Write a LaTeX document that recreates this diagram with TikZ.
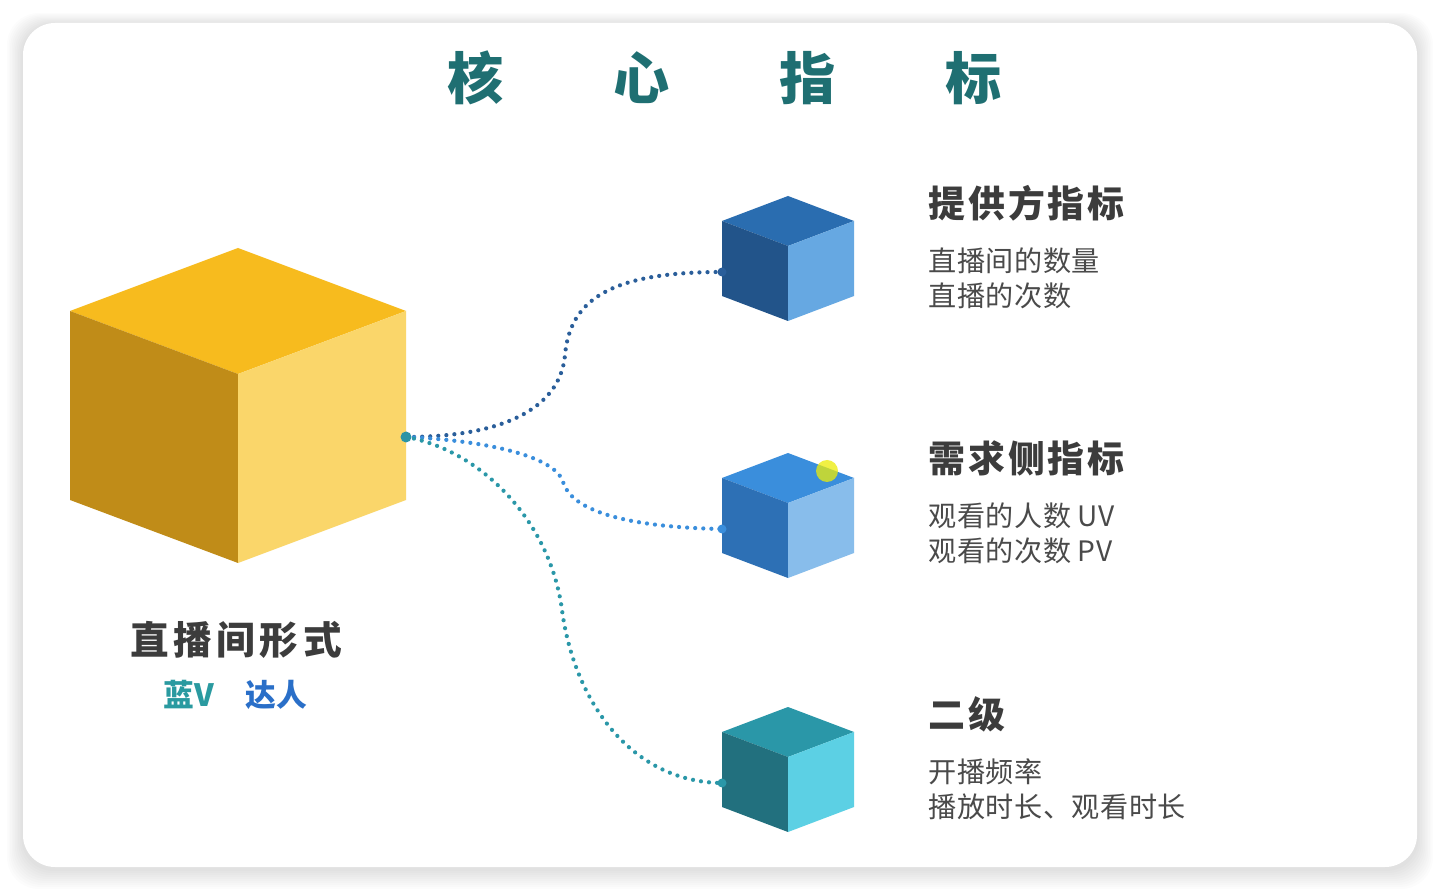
\documentclass[tikz,border=0pt]{standalone}
\usepackage{fontspec}
\setmainfont{Noto Sans CJK SC}
\usetikzlibrary{positioning}
\definecolor{titleteal}{HTML}{1F6F72}
\definecolor{headgray}{HTML}{3C3C3C}
\definecolor{bodygray}{HTML}{4A4A4A}
\definecolor{yellowtop}{HTML}{F7BB1E}
\definecolor{yellowleft}{HTML}{C08C18}
\definecolor{yellowright}{HTML}{FAD66A}
\definecolor{portteal}{HTML}{2A94A6}
\definecolor{linkdark}{HTML}{2A5E9A}
\definecolor{linkblue}{HTML}{3A8EDC}
\definecolor{linkteal}{HTML}{2A97A8}
\definecolor{bluevteal}{HTML}{2A9AA0}
\definecolor{darenblue}{HTML}{2A6FC8}
\pgfmathsetmacro{\cubehalf}{66}
\pgfmathsetmacro{\cubeslope}{25}
\pgfmathsetmacro{\cubeside}{75}

\begin{document}
\begin{tikzpicture}[x=0.02cm, y=-0.02cm,
    dot_line/.style={line width=2.4pt, line cap=round, dash pattern=on 0pt off 4.6pt},
    title_char/.style={text=titleteal, font=\fontsize{32}{36}\selectfont\bfseries},
    sec_head/.style={anchor=west, inner sep=0pt, text=headgray,
        font=\fontsize{21}{24}\selectfont\bfseries\addfontfeatures{LetterSpace=8}},
    sec_body/.style={anchor=west, inner sep=0pt, text=bodygray, align=left,
        font=\fontsize{16}{20}\selectfont\addfontfeatures{LetterSpace=2}}]
    \useasboundingbox (0,0) rectangle (1440,891);
    % card with soft shadow
    \fill[white] (0,0) rectangle (1440,891);
    \foreach \i in {1,...,10} {
        \fill[black, opacity=0.01, rounded corners=0.64cm]
            (23-1.6*\i, 25-1.2*\i) rectangle (1417+1.6*\i, 869+2*\i);
    }
    \fill[white, rounded corners=0.64cm] (23,23) rectangle (1417,867);
    % title
    \foreach \ch [count=\k] in {核, 心, 指, 标} {
        \node[title_char] (title_\k) at (476+166*\k-166, 78) {\ch};
    }
    % big yellow cube
    \coordinate (yc_top) at (238,248);
    \fill[yellowtop] (yc_top) -- ++(-168,63) -- ++(168,63) -- ++(168,-63) -- cycle;
    \fill[yellowleft] (70,311) -- (238,374) -- (238,563) -- (70,500) -- cycle;
    \fill[yellowright] (406,311) -- (238,374) -- (238,563) -- (406,500) -- cycle;
    \coordinate (yellow_port) at (406,437);
    % three small cubes
    \foreach \name/\ytop/\ctop/\cleft/\cright in {
        provider/196/2A6DB0/22548A/66A8E2,
        demand/453/3A8EDC/2D70B5/88BDEB,
        second/707/2A97A8/22707E/5CD0E4} {
        \definecolor{ctop}{HTML}{\ctop}
        \definecolor{cleft}{HTML}{\cleft}
        \definecolor{cright}{HTML}{\cright}
        \fill[ctop] (788,\ytop) -- ++(-\cubehalf,\cubeslope) -- ++(\cubehalf,\cubeslope)
            -- ++(\cubehalf,-\cubeslope) -- cycle;
        \fill[cleft] (788-\cubehalf,\ytop+\cubeslope) -- ++(\cubehalf,\cubeslope)
            -- ++(0,\cubeside) -- ++(-\cubehalf,-\cubeslope) -- cycle;
        \fill[cright] (788+\cubehalf,\ytop+\cubeslope) -- ++(-\cubehalf,\cubeslope)
            -- ++(0,\cubeside) -- ++(\cubehalf,-\cubeslope) -- cycle;
        \coordinate (\name_port) at (722,\ytop+76);
    }
    % cursor highlight
    \fill[yellow!70!lime, opacity=0.75] (827,471) circle[radius=11];
    % dotted links
    \coordinate (bend_a) at (565,355);
    \coordinate (bend_b) at (563,482);
    \coordinate (bend_c) at (562,610);
    \draw[dot_line, linkdark] (yellow_port) .. controls (500,437) and (560,410) .. (bend_a)
        .. controls (570,300) and (610,272) .. (provider_port);
    \draw[dot_line, linkblue] (yellow_port) .. controls (480,440) and (555,455) .. (bend_b)
        .. controls (571,509) and (620,527) .. (demand_port);
    \draw[dot_line, linkteal] (yellow_port) .. controls (480,450) and (550,520) .. (bend_c)
        .. controls (574,700) and (630,782) .. (second_port);
    \fill[portteal] (yellow_port) circle[radius=5.5];
    \fill[linkdark] (provider_port) circle[radius=4.5];
    \fill[linkblue] (demand_port) circle[radius=4.5];
    \fill[linkteal] (second_port) circle[radius=4.5];
    % left labels
    \node[text=headgray, font=\fontsize{22}{26}\selectfont\bfseries\addfontfeatures{LetterSpace=12}]
        (form_label) at (236,640) {直播间形式};
    \node[text=bluevteal, font=\fontsize{17.5}{20}\selectfont\bfseries, anchor=west, inner sep=0pt]
        (bluev_label) at (163,695) {蓝V};
    \node[text=darenblue, font=\fontsize{17.5}{20}\selectfont\bfseries, anchor=west, inner sep=0pt]
        (daren_label) at (245,695) {达人};
    % right sections
    \node[sec_head] (provider_head) at (928,203) {提供方指标};
    \node[sec_body] (provider_body) at (928,278) {直播间的数量\\直播的次数};
    \node[sec_head] (demand_head) at (928,458) {需求侧指标};
    \node[sec_body] (demand_body) at (928,533) {观看的人数 UV\\观看的次数 PV};
    \node[sec_head] (second_head) at (928,714) {二级};
    \node[sec_body] (second_body) at (928,789) {开播频率\\播放时长、观看时长};
\end{tikzpicture}
\end{document}
